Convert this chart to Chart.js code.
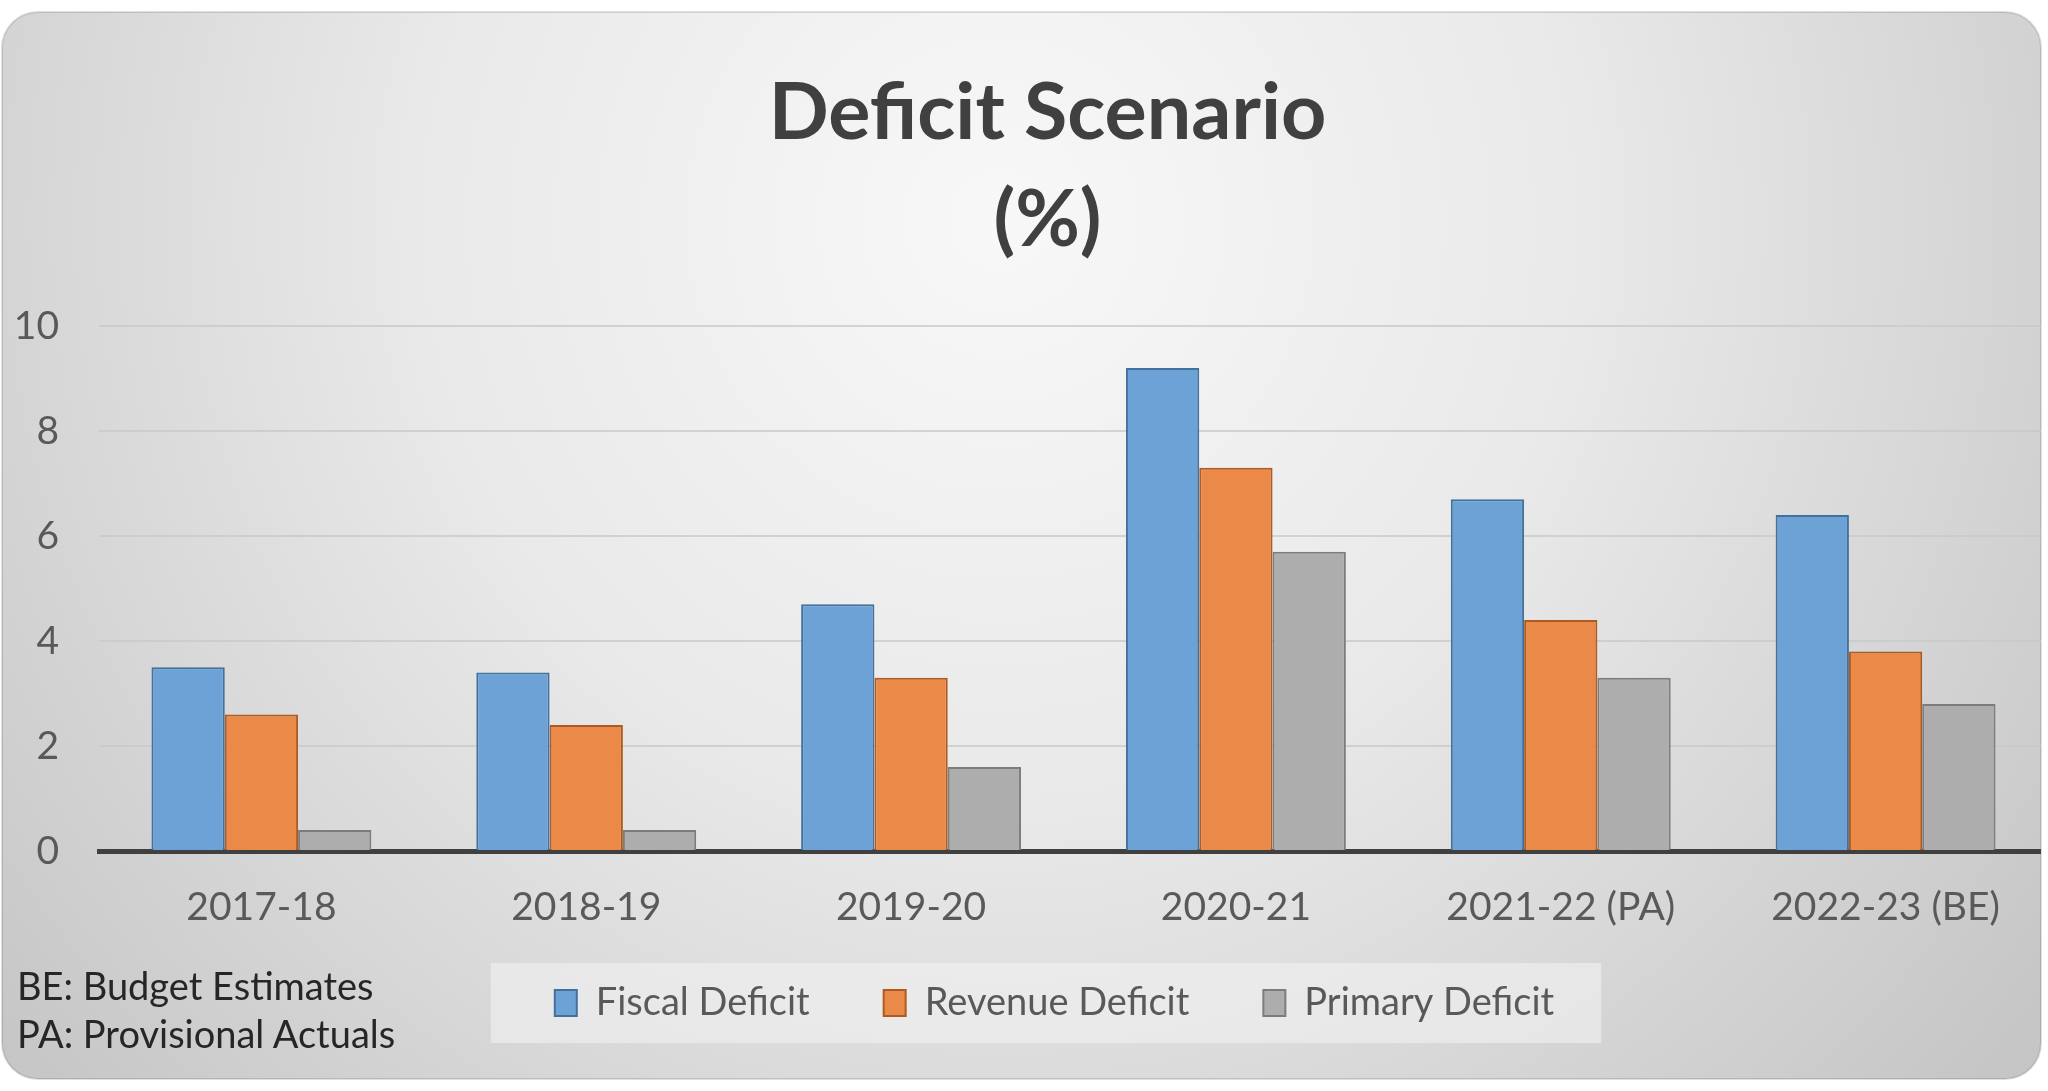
<!DOCTYPE html>
<html>
<head>
<meta charset="utf-8">
<script src="https://cdn.jsdelivr.net/npm/chart.js@4"></script>
<style>
html, body { margin: 0; padding: 0; background: #fff; }
#wrap { position: relative; width: 2048px; height: 1091px; }
#notes { position: absolute; left: 17px; top: 961px; font: 38px Lato, sans-serif; color: #262626; line-height: 48px; }
</style>
</head>
<body>
<div id="wrap">
  <canvas id="chart" width="2048" height="1091"></canvas>
  <div id="notes"><div>BE: Budget Estimates</div><div>PA: Provisional Actuals</div></div>
</div>
<script>
const years = ['2017-18', '2018-19', '2019-20', '2020-21', '2021-22 (PA)', '2022-23 (BE)'];
const fiscal = [3.5, 3.4, 4.7, 9.2, 6.7, 6.4];
const revenue = [2.6, 2.4, 3.3, 7.3, 4.4, 3.8];
const primary = [0.4, 0.4, 1.6, 5.7, 3.3, 2.8];
const yTicks = [0, 2, 4, 6, 8, 10];

const tickFont = { family: 'Lato', size: 39 };

// card background + legend panel, and clip everything to the card
const cardPlugin = {
  id: 'card',
  afterLayout(chart) {
    // title and legend sit a little right of the canvas centre
    chart.titleBlock.left += 19;
    chart.titleBlock.right += 19;
    chart.legend.left += 26;
    chart.legend.right += 26;
    chart.legend.top -= 18;
    chart.legend.bottom -= 18;
  },
  beforeDraw(chart) {
    const c = chart.ctx;
    c.save();
    c.beginPath();
    c.roundRect(2, 12, 2039, 1067, 36);
    const g = c.createRadialGradient(1000, 220, 0, 1000, 220, 1300);
    g.addColorStop(0, '#f8f8f8');
    g.addColorStop(0.45, '#e9e9e9');
    g.addColorStop(1, '#c6c6c6');
    c.fillStyle = g;
    c.fill();
    c.strokeStyle = 'rgba(0,0,0,0.12)';
    c.lineWidth = 2;
    c.stroke();
    c.restore();

    const hb = chart.legend.legendHitBoxes;
    if (hb && hb.length) {
      const l = Math.min(...hb.map(h => h.left)) - 64;
      const r = Math.max(...hb.map(h => h.left + h.width)) + 47;
      const mid = hb[0].top + hb[0].height / 2;
      c.save();
      c.fillStyle = 'rgba(240,240,240,0.65)';
      c.fillRect(l, mid - 40, r - l, 80);
      c.restore();
    }

    c.save();
    c.beginPath();
    c.roundRect(2, 12, 2039, 1067, 36);
    c.clip();
  },
  afterDraw(chart) {
    chart.ctx.restore();
  }
};

new Chart(document.getElementById('chart'), {
  type: 'bar',
  data: {
    labels: years,
    datasets: [
      { label: 'Fiscal Deficit', data: fiscal, backgroundColor: '#6ca2d6', borderColor: '#41719c' },
      { label: 'Revenue Deficit', data: revenue, backgroundColor: '#eb8948', borderColor: '#ae5a21' },
      { label: 'Primary Deficit', data: primary, backgroundColor: '#adadad', borderColor: '#7c7c7c' }
    ]
  },
  options: {
    responsive: false,
    animation: false,
    devicePixelRatio: 1,
    layout: { padding: { left: 0, right: -9, top: 0, bottom: 41 } },
    datasets: {
      bar: { barPercentage: 1, categoryPercentage: 0.677, borderWidth: 2 }
    },
    plugins: {
      title: {
        display: true,
        text: ['Deficit Scenario', '(%)'],
        color: '#404040',
        font: { family: 'Lato', size: 79, weight: 'bold', lineHeight: 1.355 },
        padding: { top: 60, bottom: 52 }
      },
      legend: {
        position: 'bottom',
        labels: {
          boxWidth: 22,
          boxHeight: 26,
          padding: 74,
          color: '#595959',
          font: { family: 'Lato', size: 38 }
        }
      },
      tooltip: { enabled: false }
    },
    scales: {
      x: {
        grid: { display: false, drawTicks: false },
        border: { display: true, color: '#404040', width: 5 },
        ticks: { color: '#595959', font: tickFont, padding: 33 },
        afterFit(s) { s.height = 77; }
      },
      y: {
        min: 0,
        max: 10,
        afterBuildTicks(s) { s.ticks = yTicks.map(v => ({ value: v })); },
        ticks: { color: '#595959', font: tickFont, padding: 40 },
        grid: { color: 'rgba(200,200,200,0.75)', lineWidth: 2, drawTicks: false },
        border: { display: false },
        afterFit(s) { s.width = 99; }
      }
    }
  },
  plugins: [cardPlugin]
});
</script>
</body>
</html>
